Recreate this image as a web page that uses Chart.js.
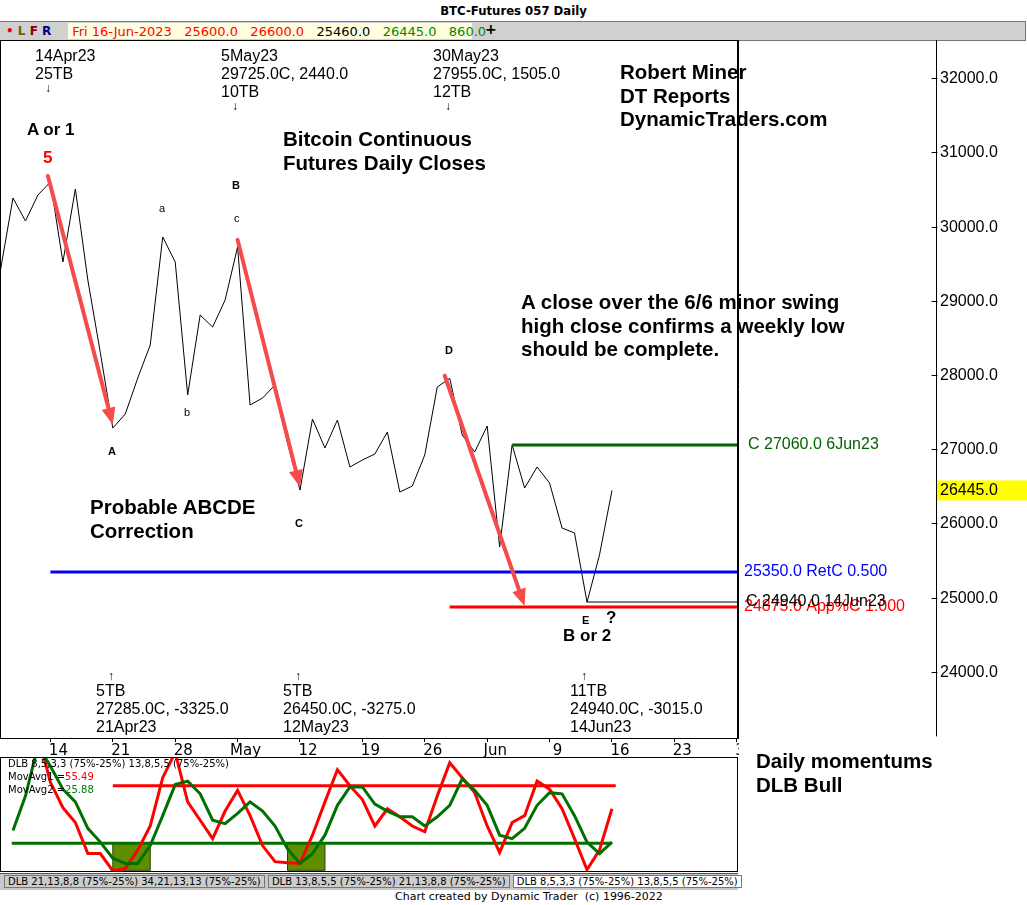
<!DOCTYPE html>
<html><head><meta charset="utf-8">
<script src="https://cdn.jsdelivr.net/npm/chart.js@4/dist/chart.umd.min.js"></script>
<style>
body{margin:0;width:1027px;height:905px;position:relative;background:#fff;font-family:"Liberation Sans",Arial,sans-serif;overflow:hidden}
.t{position:absolute;white-space:nowrap;font-size:16px;color:#000;line-height:18px}
.b{font-weight:bold;font-size:20.5px;line-height:23.5px}
.s{font-weight:bold;font-size:11px}
canvas{position:absolute}
</style></head><body>
<script>
// ---- data ----
const dayIndex = [1,2,3,4,5,6,7,8,9,10,11,12,13,14,15,16,17,18,19,20,21,22,23,24,25,26,27,28,29,30,31,32,33,34,35,36,37,38,39,40,41,42,43,44,45,46,47,48,49,50];
const closes = [29414,30384,30074,30424,30599,29522,30505,29279,28300,27285,27475,27960,28404,29859,29522,27731,28808,28646,29010,29725,27596,27690,27865,27084,26450,27407,27017,27394,26761,26855,26936,27232,26424,26505,26923,27838,27955,27192,26963,27313,25684,27060,26478,26761,26545,25939,25872,24940,25576,26445];
const movAvg1 = [null,null,null,120,78,56,43,16,16,1,3,19,40,82,104,61,45,29,53,71,49,23,9,8,7.5,32,61,89,75,63,40,55,48,40,35,66,95,82,69,40,17,43,49,79,72,55,29,2,19,55];
const movAvg2 = [null,36,66,110,92,72,61,38,26,12,7.5,7.5,23,49,76,79,68,45,42,51,61,53,40,20,7.5,16,32,58,74,74,59,53,48,48,40,48,58,81,71,58,32,29,38,58,69,68,49,26,16,26];
const tickIdx = [5,10,15,20,25,30,35,40,45,50,55,60];
const tickLabels = ["14","21","28","May","12","19","26","Jun","9","16","23","30"];
const priceTicks = [24000,25000,26000,27000,28000,29000,30000,31000,32000];
const levels = [
  {v:27060, from:42, color:"#006400", w:3, label:"C 27060.0 6Jun23", lx:748},
  {v:25350, from:5, color:"#0000ff", w:3, label:"25350.0 RetC 0.500", lx:744},
  {v:24875, from:37, color:"#ff0000", w:3, label:"24875.0 App%C 1.000", lx:744},
  {v:24940, from:48, color:"#000000", w:1, label:"C 24940.0 14Jun23", lx:746}
];
const arrows = [[4.8,30680,10,27330],[20,29820,25,26490],[36.6,27990,43,24890]];
const lastClose = 26445;
const momBoxes = [[10,13],[24,27]];
const XMIN = 0.96, XMAX = 60.1;
</script>

<div style="position:absolute;left:0;top:0;width:1027px;height:20px;text-align:center;font:bold 13px 'DejaVu Sans Condensed','DejaVu Sans';line-height:21px">BTC-Futures 057 Daily</div>
<div style="position:absolute;left:0;top:21px;width:1025px;height:18px;background:#d0d0d0;border:1px solid #777;border-left:none"></div>
<div style="position:absolute;left:68px;top:23px;width:404px;height:16px;background:#ffffe0;font:13px Tahoma,'DejaVu Sans';line-height:17px;white-space:nowrap">&nbsp;<span style="color:#f00">Fri 16-Jun-2023&nbsp;&nbsp; 25600.0&nbsp;&nbsp; 26600.0</span>&nbsp;&nbsp; 25460.0&nbsp;&nbsp; <span style="color:#080">26445.0&nbsp;&nbsp; 860.0</span></div>
<div style="position:absolute;left:6px;top:22px;font:bold 12px 'DejaVu Sans';line-height:18px"><span style="color:#e00">•</span> <span style="color:#660">L</span> <span style="color:#800">F</span> <span style="color:#008">R</span></div>
<div style="position:absolute;left:485px;top:21px;font:bold 14px 'DejaVu Sans'">+</div>

<div style="position:absolute;left:0;top:40px;width:1027px;height:717px"><canvas id="main" width="1027" height="717" style="left:0;top:0;width:1027px;height:717px"></canvas></div>
<div style="position:absolute;left:0;top:757px;width:738px;height:115px"><canvas id="mom" width="738" height="115" style="left:0;top:0;width:738px;height:115px"></canvas></div>

<div class="t" style="left:35px;top:47px">14Apr23<br>25TB</div><div class="t" style="left:45px;top:79px;font-size:12px">↓</div>
<div class="t" style="left:221px;top:47px">5May23<br>29725.0C, 2440.0<br>10TB</div><div class="t" style="left:232px;top:97px;font-size:12px">↓</div>
<div class="t" style="left:433px;top:47px">30May23<br>27955.0C, 1505.0<br>12TB</div><div class="t" style="left:445px;top:97px;font-size:12px">↓</div>
<div class="t b" style="left:620px;top:60px">Robert Miner<br>DT Reports<br>DynamicTraders.com</div>
<div class="t b" style="left:283px;top:127px">Bitcoin Continuous<br>Futures Daily Closes</div>
<div class="t b" style="left:521px;top:290px">A close over the 6/6 minor swing<br>high close confirms a weekly low<br>should be complete.</div>
<div class="t b" style="left:90px;top:495px">Probable ABCDE<br>Correction</div>
<div class="t" style="left:27px;top:121px;font-weight:bold;font-size:17px">A or 1</div>
<div class="t" style="left:43px;top:149px;font-weight:bold;font-size:17px;color:#f00">5</div>
<div class="t s" style="left:232px;top:176px">B</div>
<div class="t s" style="left:159px;top:199px;font-weight:normal">a</div>
<div class="t s" style="left:234px;top:209px;font-weight:normal">c</div>
<div class="t s" style="left:184px;top:403px;font-weight:normal">b</div>
<div class="t s" style="left:108px;top:442px">A</div>
<div class="t s" style="left:295px;top:514px">C</div>
<div class="t s" style="left:445px;top:341px">D</div>
<div class="t s" style="left:582px;top:611px">E</div>
<div class="t" style="left:606px;top:609px;font-weight:bold;font-size:17px">?</div>
<div class="t" style="left:563px;top:627px;font-weight:bold;font-size:17px">B or 2</div>
<div class="t" style="left:108px;top:667px;font-size:12px">↑</div><div class="t" style="left:96px;top:682px">5TB<br>27285.0C, -3325.0<br>21Apr23</div>
<div class="t" style="left:295px;top:667px;font-size:12px">↑</div><div class="t" style="left:283px;top:682px">5TB<br>26450.0C, -3275.0<br>12May23</div>
<div class="t" style="left:581px;top:667px;font-size:12px">↑</div><div class="t" style="left:570px;top:682px">11TB<br>24940.0C, -3015.0<br>14Jun23</div>
<div class="t b" style="left:756px;top:749px">Daily momentums<br>DLB Bull</div>

<div class="t" style="left:8px;top:757px;font:10px Tahoma,'DejaVu Sans';line-height:13px">DLB 8,5,3,3 (75%-25%) 13,8,5,5 (75%-25%)<br>MovAvg1 =<span style="color:#f00">55.49</span><br>MovAvg2 =<span style="color:#070">25.88</span></div>

<div style="position:absolute;left:0;top:873px;width:738px;height:16px;background:#c8c8c8;border-top:1px solid #555"></div>
<div style="position:absolute;left:4px;top:875px;font:10px Tahoma,'DejaVu Sans';white-space:nowrap;line-height:13px">
<span style="background:#ccc;border:1px solid #777;padding:0 3px">DLB 21,13,8,8 (75%-25%) 34,21,13,13 (75%-25%)</span> <span style="background:#ccc;border:1px solid #777;padding:0 3px">DLB 13,8,5,5 (75%-25%) 21,13,8,8 (75%-25%)</span> <span style="background:#fff;border:1px solid #777;padding:0 3px">DLB 8,5,3,3 (75%-25%) 13,8,5,5 (75%-25%)</span></div>
<div class="t" style="left:395px;top:890px;font:11px Tahoma,'DejaVu Sans';line-height:14px">Chart created by Dynamic Trader&nbsp; (c) 1996-2022</div>

<script>
const pts = (arr) => dayIndex.map((d,i)=>({x:d,y:arr[i]}));
const mainPlugin = {
  id:'mainAnn',
  afterDatasetsDraw(c){
    const {ctx, chartArea:a, scales:{x,y}} = c;
    ctx.save();
    levels.forEach(l=>{
      const yy = Math.round(y.getPixelForValue(l.v));
      ctx.strokeStyle=l.color; ctx.lineWidth=l.w;
      ctx.beginPath(); ctx.moveTo(x.getPixelForValue(l.from),yy); ctx.lineTo(a.right,yy); ctx.stroke();
      ctx.fillStyle=l.color; ctx.font='16px "Liberation Sans"'; ctx.textBaseline='middle';
      ctx.fillText(l.label, l.lx, yy);
    });
    arrows.forEach(([x1,y1,x2,y2])=>{
      const px1=x.getPixelForValue(x1), py1=y.getPixelForValue(y1), px2=x.getPixelForValue(x2), py2=y.getPixelForValue(y2);
      const ang=Math.atan2(py2-py1,px2-px1);
      ctx.strokeStyle='#f44b4b'; ctx.fillStyle='#f44b4b'; ctx.lineWidth=4; ctx.lineCap='round';
      ctx.beginPath(); ctx.moveTo(px1,py1); ctx.lineTo(px2-12*Math.cos(ang),py2-12*Math.sin(ang)); ctx.stroke();
      ctx.beginPath(); ctx.moveTo(px2,py2);
      ctx.lineTo(px2-17*Math.cos(ang)+7*Math.sin(ang), py2-17*Math.sin(ang)-7*Math.cos(ang));
      ctx.lineTo(px2-17*Math.cos(ang)-7*Math.sin(ang), py2-17*Math.sin(ang)+7*Math.cos(ang));
      ctx.closePath(); ctx.fill();
    });
    // price axis
    ctx.font='16px "Liberation Sans"'; ctx.fillStyle='#000'; ctx.textBaseline='middle'; ctx.strokeStyle='#000'; ctx.lineWidth=1;
    ctx.beginPath(); ctx.moveTo(936.5,a.top); ctx.lineTo(936.5,a.bottom-2); ctx.stroke();
    priceTicks.forEach(v=>{
      const py=Math.round(y.getPixelForValue(v))+0.5;
      ctx.beginPath(); ctx.moveTo(932,py); ctx.lineTo(937,py); ctx.stroke();
      ctx.fillText(v.toFixed(1),940,py);
    });
    const ly=y.getPixelForValue(lastClose);
    ctx.fillStyle='#ffff00'; ctx.fillRect(937,ly-10,90,20);
    ctx.fillStyle='#000'; ctx.fillText('26445.0',940,ly);
    ctx.strokeRect(a.left+0.5,a.top+0.5,a.right-a.left-1,a.bottom-a.top);
    ctx.restore();
  },
  afterDraw(c){
    const {ctx, chartArea:a} = c;
    ctx.save(); ctx.fillStyle='#fff'; ctx.fillRect(a.right+1,a.bottom+1,180,c.height-a.bottom); ctx.restore();
  }
};
new Chart(document.getElementById('main'),{
  type:'line',
  data:{datasets:[{data:pts(closes),borderColor:'#000',borderWidth:1,pointRadius:0,tension:0}]},
  options:{responsive:false,maintainAspectRatio:false,animation:false,events:[],
    layout:{padding:0},
    plugins:{legend:{display:false},tooltip:{enabled:false}},
    scales:{
      x:{type:'linear',min:XMIN,max:XMAX,
        afterBuildTicks:s=>{s.ticks=tickIdx.map(v=>({value:v}));},
        afterFit:s=>{s.height=19;},
        grid:{drawOnChartArea:false,tickLength:4,color:'#000'},border:{color:'#000'},
        ticks:{autoSkip:false,maxRotation:0,padding:0,labelOffset:8,color:'#000',font:{family:'Tahoma, "DejaVu Sans"',size:15},
          callback:(v)=>tickLabels[tickIdx.indexOf(v)]}},
      y:{position:'right',min:23111,max:32512,
        afterFit:s=>{s.width=289;},
        grid:{display:false},border:{color:'#000'},
        ticks:{display:false}}
    }},
  plugins:[mainPlugin]
});

const momPlugin = {
  id:'momAnn',
  beforeDatasetsDraw(c){
    const {ctx, chartArea:a, scales:{x,y}} = c;
    ctx.save();
    momBoxes.forEach(([f,t])=>{
      const x1=x.getPixelForValue(f), x2=x.getPixelForValue(t), y1=y.getPixelForValue(25), y2=y.getPixelForValue(1.5);
      ctx.fillStyle='#5f8f00'; ctx.fillRect(x1,y1,x2-x1,y2-y1);
      ctx.strokeStyle='#2b4200'; ctx.lineWidth=1; ctx.strokeRect(x1,y1,x2-x1,y2-y1);
    });
    ctx.lineWidth=3;
    let yy=y.getPixelForValue(75);
    ctx.strokeStyle='#ff0000'; ctx.beginPath(); ctx.moveTo(x.getPixelForValue(10),yy); ctx.lineTo(x.getPixelForValue(50.3),yy); ctx.stroke();
    yy=y.getPixelForValue(25);
    ctx.strokeStyle='#007000'; ctx.beginPath(); ctx.moveTo(x.getPixelForValue(1.9),yy); ctx.lineTo(x.getPixelForValue(50),yy); ctx.stroke();
    ctx.restore();
  },
  afterDraw(c){const {ctx,chartArea:a}=c; ctx.save(); ctx.strokeStyle='#000'; ctx.lineWidth=1; ctx.strokeRect(0.5,0.5,a.right-1,a.bottom-1); ctx.restore();}
};
new Chart(document.getElementById('mom'),{
  type:'line',
  data:{datasets:[
    {data:pts(movAvg2),borderColor:'#007000',borderWidth:3,pointRadius:0,tension:0},
    {data:pts(movAvg1),borderColor:'#ff0000',borderWidth:3,pointRadius:0,tension:0}
  ]},
  options:{responsive:false,animation:false,events:[],layout:{padding:0},
    plugins:{legend:{display:false},tooltip:{enabled:false}},
    scales:{x:{type:'linear',min:XMIN,max:XMAX,display:false},y:{min:0,max:100,display:false}}},
  plugins:[momPlugin]
});
</script>
</body></html>
